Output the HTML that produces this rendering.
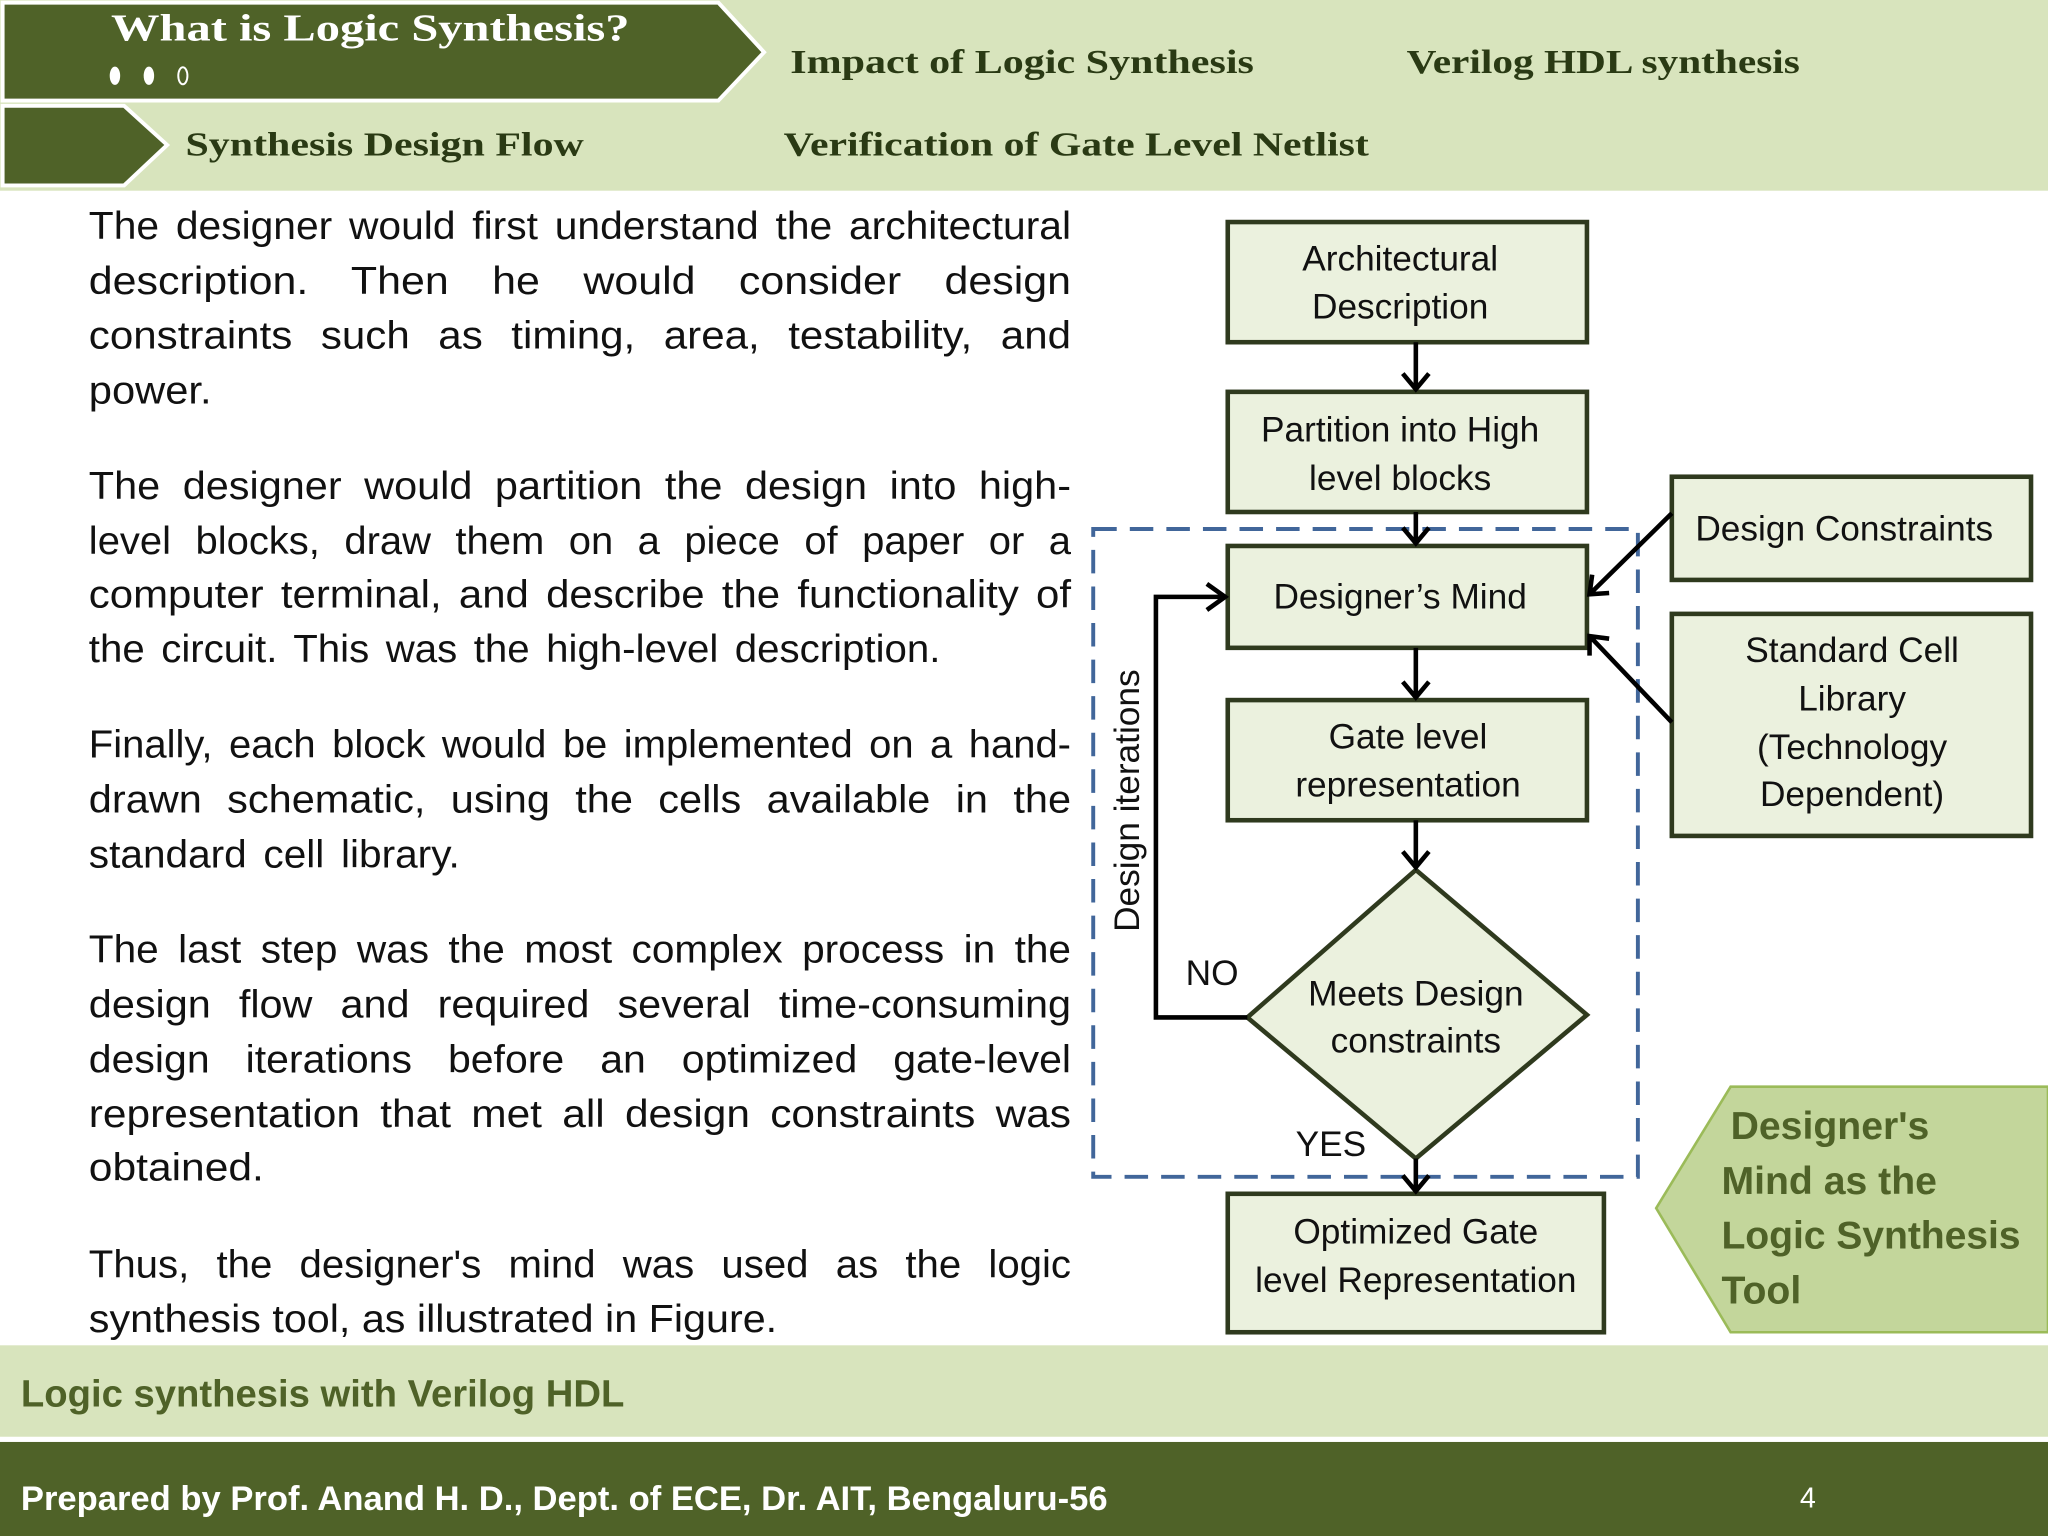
<!DOCTYPE html>
<html><head><meta charset="utf-8"><style>
html,body{margin:0;padding:0;background:#fff;width:2048px;height:1536px;overflow:hidden}
#w{position:absolute;left:0;top:0;width:1568px;height:1176px;transform:scale(1.306122);transform-origin:0 0;font-family:"Liberation Sans",sans-serif}
</style></head><body><div id="w">
<svg width="1568" height="1176" style="position:absolute;left:0;top:0" font-family="Liberation Serif, serif">
<rect x="0" y="0" width="1568" height="146" fill="#d8e4bd"/>
<polygon points="2,2 550,2 585,40 550,77 2,77" fill="#4f6228" stroke="#fff" stroke-width="3"/>
<polygon points="2,81 95,81 128,111 95,142 2,142" fill="#4f6228" stroke="#fff" stroke-width="3"/>
<text x="85" y="31" fill="#fff" font-weight="bold" font-size="29" textLength="397" lengthAdjust="spacingAndGlyphs">What is Logic Synthesis?</text>
<ellipse cx="88" cy="58" rx="4" ry="7" fill="#fff"/><ellipse cx="114" cy="58" rx="4" ry="7" fill="#fff"/><ellipse cx="140" cy="58" rx="3.5" ry="6.5" fill="none" stroke="#fff" stroke-width="1.5"/>
<g fill="#2a3a14" font-weight="bold" font-size="26">
<text x="605" y="56" textLength="355" lengthAdjust="spacingAndGlyphs">Impact of Logic Synthesis</text>
<text x="1077" y="56" textLength="301" lengthAdjust="spacingAndGlyphs">Verilog HDL synthesis</text>
<text x="142" y="119" textLength="305" lengthAdjust="spacingAndGlyphs">Synthesis Design Flow</text>
<text x="600" y="119" textLength="448" lengthAdjust="spacingAndGlyphs">Verification of Gate Level Netlist</text>
</g>
<g font-family="Liberation Sans, sans-serif" font-size="30" fill="#111" word-spacing="4">
<text x="68" y="183" textLength="752" lengthAdjust="spacingAndGlyphs">The designer would first understand the architectural</text>
<text x="68" y="225" textLength="752" lengthAdjust="spacingAndGlyphs" word-spacing="22">description. Then he would consider design</text>
<text x="68" y="267" textLength="752" lengthAdjust="spacingAndGlyphs" word-spacing="12">constraints such as timing, area, testability, and</text>
<text x="68" y="309" textLength="94" lengthAdjust="spacingAndGlyphs">power.</text>
<text x="68" y="382" textLength="752" lengthAdjust="spacingAndGlyphs" word-spacing="8">The designer would partition the design into high-</text>
<text x="68" y="424" textLength="752" lengthAdjust="spacingAndGlyphs" word-spacing="10">level blocks, draw them on a piece of paper or a</text>
<text x="68" y="465" textLength="752" lengthAdjust="spacingAndGlyphs">computer terminal, and describe the functionality of</text>
<text x="68" y="507" textLength="652" lengthAdjust="spacingAndGlyphs">the circuit. This was the high-level description.</text>
<text x="68" y="580" textLength="752" lengthAdjust="spacingAndGlyphs">Finally, each block would be implemented on a hand-</text>
<text x="68" y="622" textLength="752" lengthAdjust="spacingAndGlyphs" word-spacing="10">drawn schematic, using the cells available in the</text>
<text x="68" y="664" textLength="284" lengthAdjust="spacingAndGlyphs">standard cell library.</text>
<text x="68" y="737" textLength="752" lengthAdjust="spacingAndGlyphs" word-spacing="6">The last step was the most complex process in the</text>
<text x="68" y="779" textLength="752" lengthAdjust="spacingAndGlyphs" word-spacing="12">design flow and required several time-consuming</text>
<text x="68" y="821" textLength="752" lengthAdjust="spacingAndGlyphs" word-spacing="18">design iterations before an optimized gate-level</text>
<text x="68" y="863" textLength="752" lengthAdjust="spacingAndGlyphs" word-spacing="6">representation that met all design constraints was</text>
<text x="68" y="904" textLength="134" lengthAdjust="spacingAndGlyphs" word-spacing="0">obtained.</text>
<text x="68" y="978" textLength="752" lengthAdjust="spacingAndGlyphs" word-spacing="12">Thus, the designer's mind was used as the logic</text>
<text x="68" y="1020" textLength="527" lengthAdjust="spacingAndGlyphs" word-spacing="0">synthesis tool, as illustrated in Figure.</text>
</g>
<rect x="0" y="1030" width="1568" height="70" fill="#d8e4bd"/>
<rect x="0" y="1104" width="1568" height="72" fill="#4f6228"/>
<g font-family="Liberation Sans, sans-serif" font-weight="bold">
<text x="16" y="1077" fill="#4f6228" font-size="29" textLength="462" lengthAdjust="spacingAndGlyphs">Logic synthesis with Verilog HDL</text>
<text x="16" y="1156" fill="#fff" font-size="26" textLength="832" lengthAdjust="spacingAndGlyphs">Prepared by Prof. Anand H. D., Dept. of ECE,  Dr. AIT, Bengaluru-56</text>
<text x="1378" y="1154" fill="#fff" font-size="22" font-weight="normal">4</text>
</g>
<polygon points="1268,925 1325,832 1568,832 1568,1020 1325,1020" fill="#c3d69b" stroke="#9bbb59" stroke-width="2"/>
<g font-family="Liberation Sans, sans-serif" font-weight="bold" font-size="30" fill="#4f6228">
<text x="1325" y="872">Designer's</text><text x="1318" y="914">Mind as the</text><text x="1318" y="956" textLength="229" lengthAdjust="spacing">Logic  Synthesis</text><text x="1318" y="998">Tool</text>
</g>
<rect x="837" y="405" width="417" height="496" fill="none" stroke="#41669a" stroke-width="3" stroke-dasharray="18,10"/>
<g fill="#ebf1de" stroke="#2f3a1e" stroke-width="3.5">
<rect x="940" y="170" width="275" height="92"/>
<rect x="940" y="300" width="275" height="92"/>
<rect x="940" y="418" width="275" height="78"/>
<rect x="940" y="536" width="275" height="92"/>
<polygon points="1084,666 1215,777 1084,887 955,779"/>
<rect x="940" y="914" width="288" height="106"/>
<rect x="1280" y="365" width="275" height="79"/>
<rect x="1280" y="470" width="275" height="170"/>
</g>
<g stroke="#000" stroke-width="3.5" fill="none">
<path d="M1084 262V298M1074 286L1084 298L1094 286"/>
<path d="M1084 392V416M1074 404L1084 416L1094 404"/>
<path d="M1084 496V534M1074 522L1084 534L1094 522"/>
<path d="M1084 628V664M1074 652L1084 664L1094 652"/>
<path d="M1084 887V912M1074 900L1084 912L1094 900"/>
<path d="M955 779H885V457H938M924 447L938 457L924 467"/>
<path d="M1280 393L1217 455M1219 440L1217 455L1232 454"/>
<path d="M1280 553L1217 487M1217 502L1217 487L1232 489"/>
</g>
<g font-family="Liberation Sans, sans-serif" font-size="27" fill="#111" text-anchor="middle">
<text x="1072" y="207">Architectural</text><text x="1072" y="244">Description</text>
<text x="1072" y="338">Partition into High</text><text x="1072" y="375">level blocks</text>
<text x="1072" y="466">Designer’s Mind</text>
<text x="1078" y="573">Gate level</text><text x="1078" y="610">representation</text>
<text x="1084" y="770">Meets Design</text><text x="1084" y="806">constraints</text>
<text x="1084" y="952">Optimized Gate</text><text x="1084" y="989">level Representation</text>
<text x="1412" y="414">Design Constraints</text>
<text x="1418" y="507">Standard Cell</text><text x="1418" y="544">Library</text><text x="1418" y="581">(Technology</text><text x="1418" y="617">Dependent)</text>
<text x="928" y="754">NO</text><text x="1019" y="885">YES</text>
<text transform="translate(872,613) rotate(-90)">Design iterations</text>
</g>
</svg>
</div></body></html>
